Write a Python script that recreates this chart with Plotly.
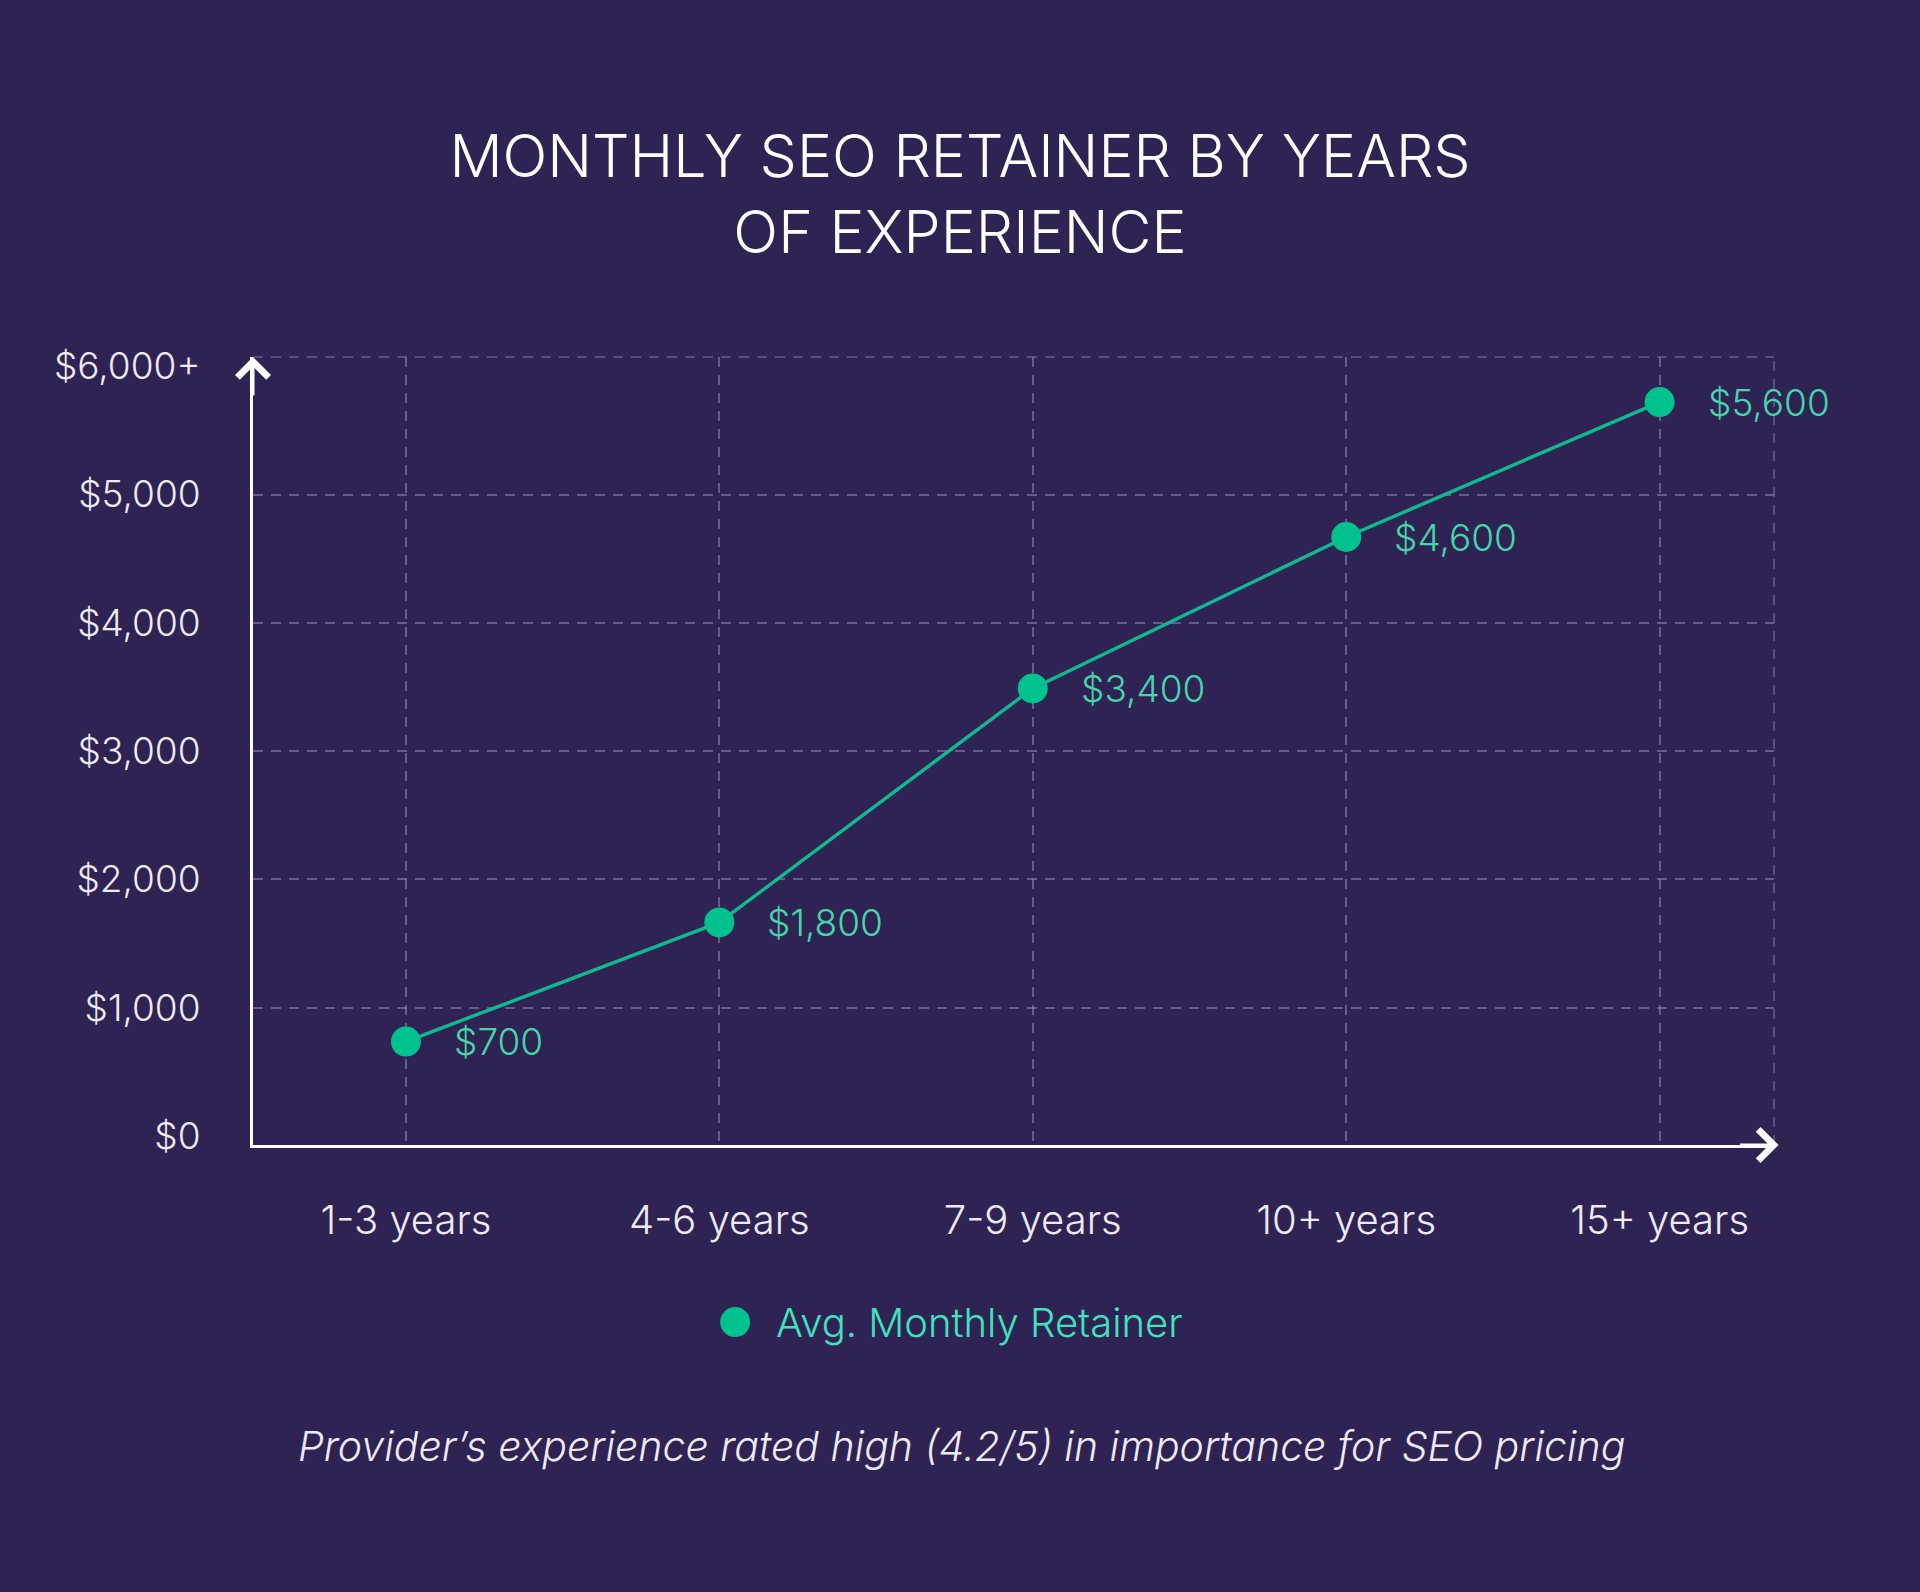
import plotly.graph_objects as go

# data
categories = ["1-3 years", "4-6 years", "7-9 years", "10+ years", "15+ years"]
retainer = [736, 1665, 3489, 4669, 5721]          # marker heights as drawn
value_labels = ["$700", "$1,800", "$3,400", "$4,600", "$5,600"]
y_ticks = [0, 1000, 2000, 3000, 4000, 5000, 6000]
y_tick_labels = ["$0", "$1,000", "$2,000", "$3,000", "$4,000", "$5,000", "$6,000+"]
series_name = "Avg. Monthly Retainer"
title = "MONTHLY SEO RETAINER BY YEARS<br>OF EXPERIENCE"
note = "Provider\u2019s experience rated high (4.2/5) in importance for SEO pricing"

BG = "#2E2352"
GREEN = "#00C28E"
LINE = "#12B892"
LABEL = "#46D4AB"
LEGEND_TXT = "#3FE3BE"
TEXT = "#ECEAF2"
GRID = "rgba(150,140,185,0.55)"
FONT = "Inter"
DASH = "10px,8px"

fig = go.Figure()

fig.add_trace(go.Scatter(
    x=categories,
    y=retainer,
    mode="lines+markers",
    name=series_name,
    line=dict(color=LINE, width=3.5),
    marker=dict(size=30, color=GREEN),
    showlegend=False,
    hoverinfo="skip",
))

# value labels to the right of each point
for cat, val, lab in zip(categories, retainer, value_labels):
    fig.add_annotation(
        x=cat, y=val, text=lab, showarrow=False,
        xanchor="left", yanchor="middle", xshift=46,
        font=dict(family=FONT, size=37, color=LABEL, weight=300),
    )

# arrow heads on the axes
fig.add_annotation(xref="paper", yref="paper", x=0, y=1, ax=0, ay=40,
                   text="", showarrow=True, arrowhead=4, arrowsize=2,
                   arrowwidth=3, arrowcolor="white")
fig.add_annotation(xref="paper", yref="paper", x=1.003, y=0, ax=-40, ay=0,
                   text="", showarrow=True, arrowhead=4, arrowsize=2,
                   arrowwidth=3, arrowcolor="white")

# dashed frame lines on the top and right
fig.add_shape(type="line", xref="paper", yref="paper", x0=1, x1=1, y0=0, y1=1,
              line=dict(color=GRID, width=1.5, dash=DASH), layer="below")
fig.add_shape(type="line", xref="paper", yref="paper", x0=0, x1=1, y0=1, y1=1,
              line=dict(color=GRID, width=1.5, dash=DASH), layer="below")

# custom legend (big dot + text)
fig.add_shape(type="circle", xref="paper", yref="paper",
              xsizemode="pixel", ysizemode="pixel",
              xanchor=0.317, yanchor=-0.2247, x0=-15, x1=15, y0=-15, y1=15,
              fillcolor=GREEN, line_width=0)
fig.add_annotation(xref="paper", yref="paper", x=0.3425, y=-0.2247,
                   text=series_name, showarrow=False,
                   xanchor="left", yanchor="middle",
                   font=dict(family=FONT, size=40, color=LEGEND_TXT, weight=300))

# footnote
fig.add_annotation(xref="paper", yref="paper", x=0.4656, y=-0.382,
                   text=note, showarrow=False,
                   xanchor="center", yanchor="middle",
                   font=dict(family=FONT, size=41, color=TEXT, style="italic",
                             weight=300))

fig.update_layout(
    width=1920,
    height=1592,
    paper_bgcolor=BG,
    plot_bgcolor=BG,
    margin=dict(l=253, r=146, t=357, b=447),
    title=dict(
        text=title, x=0.5, xanchor="center",
        y=0.889, yanchor="middle", yref="container",
        font=dict(family=FONT, size=59, color="white", weight=300),
    ),
    xaxis=dict(
        type="category",
        range=[-0.488, 4.365],
        showgrid=True, gridcolor=GRID, gridwidth=1.5, griddash=DASH,
        showline=True, linecolor="white", linewidth=3,
        zeroline=False, ticks="",
        ticklabelstandoff=38,
        tickfont=dict(family=FONT, size=40, color=TEXT, weight=300),
        fixedrange=True,
    ),
    yaxis=dict(
        range=[-70, 6072],
        tickmode="array", tickvals=y_ticks, ticktext=y_tick_labels,
        showgrid=False,
        minor=dict(tickvals=y_ticks[1:-1], showgrid=True, gridcolor=GRID,
                   gridwidth=1.5, griddash=DASH, ticks=""),
        showline=True, linecolor="white", linewidth=3,
        zeroline=False, ticks="",
        ticklabelstandoff=42,
        tickfont=dict(family=FONT, size=37, color=TEXT, weight=300),
        fixedrange=True,
    ),
    font=dict(family=FONT, color=TEXT),
)

fig.write_html("out.html", config={"displayModeBar": False},
               post_script="document.body.style.margin='0';")
